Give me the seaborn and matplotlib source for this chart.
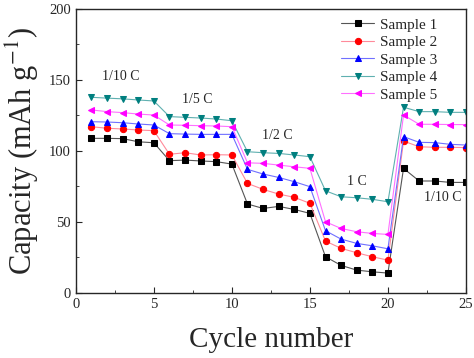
import matplotlib
matplotlib.use('Agg')

import matplotlib.pyplot as plt
import numpy as np
import pandas as pd
import seaborn as sns
from matplotlib.ticker import MultipleLocator

# cycle index and capacities
cycles = list(range(1, 26))

sample1 = [108.7, 108.7, 108.5, 106.3, 105.6,
           93.0, 93.4, 92.8, 92.3, 90.6,
           62.5, 59.4, 60.8, 58.7, 55.9,
           25.4, 19.3, 16.0, 14.8, 13.9,
           87.6, 78.7, 78.7, 77.7, 77.7]
sample2 = [116.9, 115.8, 115.3, 114.6, 114.1,
           97.5, 98.6, 97.0, 97.2, 97.0,
           77.0, 72.8, 69.5, 67.2, 63.0,
           36.4, 31.3, 28.2, 25.4, 23.0,
           106.8, 102.8, 102.4, 102.4, 102.2]
sample3 = [120.4, 120.2, 119.7, 118.8, 118.1,
           112.0, 111.7, 111.5, 111.5, 111.5,
           86.9, 83.6, 81.2, 78.2, 74.7,
           43.7, 37.8, 34.8, 33.1, 31.0,
           109.9, 105.9, 105.7, 104.5, 104.0]
sample4 = [137.6, 137.0, 136.5, 135.7, 135.0,
           124.0, 123.5, 123.0, 122.3, 121.1,
           99.3, 98.6, 98.1, 97.0, 95.8,
           71.8, 67.6, 66.9, 65.8, 64.1,
           130.6, 127.5, 127.5, 127.0, 127.0]
sample5 = [128.7, 127.5, 126.8, 125.8, 125.1,
           118.1, 117.9, 117.6, 117.4, 116.9,
           91.5, 91.1, 89.9, 88.7, 87.6,
           50.0, 45.3, 43.0, 41.8, 41.1,
           125.1, 118.6, 118.6, 118.4, 118.4]

names = ['Sample 1', 'Sample 2', 'Sample 3', 'Sample 4', 'Sample 5']
series = [sample1, sample2, sample3, sample4, sample5]

# rate labels: text, x, y
rate_labels = [('1/10 C', 1.7, 152), ('1/5 C', 6.8, 136), ('1/2 C', 11.9, 110.5),
               ('1 C', 17.4, 78), ('1/10 C', 22.3, 67)]

markers = ['s', 'o', '^', 'v', '<']
marker_colors = ['#000000', '#ff0000', '#0000ff', '#007f7f', '#ff00ff']
line_colors = ['#555555', '#ff8a9a', '#7070ff', '#5fb0b0', '#ff70ff']

sns.set_style('ticks')
plt.rcParams['font.family'] = ['Liberation Serif', 'DejaVu Serif']
plt.rcParams['mathtext.fontset'] = 'stix'

fig = plt.figure(figsize=(4.74, 3.58), dpi=100)
ax = fig.add_axes([0.160, 0.182, 0.823, 0.794])

for name, vals, m, mc, lc in zip(names, series, markers, marker_colors, line_colors):
	df = pd.DataFrame({'cycle': cycles, 'capacity': vals})
	sns.lineplot(data=df, x='cycle', y='capacity', ax=ax, color=lc, lw=0.8,
		marker=m, markersize=4.5, markerfacecolor=mc, markeredgecolor=mc,
		label=name)

for text, x, y in rate_labels:
	ax.text(x, y, text, fontsize=10, va='center', ha='left')

ax.set_xlim(0, 25)
ax.set_ylim(0, 200)
ax.xaxis.set_major_locator(MultipleLocator(5))
ax.xaxis.set_minor_locator(MultipleLocator(2.5))
ax.yaxis.set_major_locator(MultipleLocator(50))
ax.yaxis.set_minor_locator(MultipleLocator(25))
ax.tick_params(which='both', direction='in', top=False, right=False, labelsize=10.5)
ax.tick_params(which='major', length=4)
ax.tick_params(which='minor', length=2.5)
for s in ax.spines.values():
	s.set_linewidth(1.0)

ax.set_xlabel('Cycle number', fontsize=21, labelpad=12)
ax.set_ylabel('Capacity (mAh g$^{-1}$)', fontsize=22, labelpad=6)

ax.legend(loc='upper right', bbox_to_anchor=(0.955, 1.005), frameon=False,
	fontsize=11, handlelength=2.2, handletextpad=0.4, labelspacing=0.25,
	borderaxespad=0.3)

fig.savefig('out.png', dpi=100)
plt.close()
